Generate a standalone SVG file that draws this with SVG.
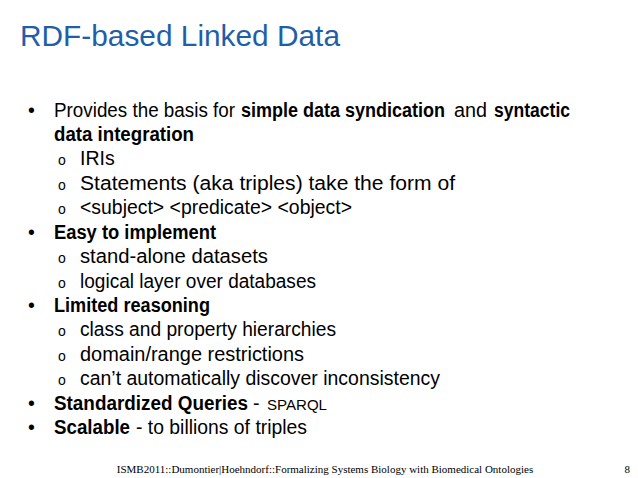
<svg xmlns="http://www.w3.org/2000/svg" width="638" height="478" viewBox="0 0 638 478">
<style>
.t{font-family:"Liberation Sans",Arial,sans-serif;font-size:19.5px;fill:#000}
.b{font-weight:bold}
.o{font-family:"Liberation Sans",Arial,sans-serif;font-size:14px}
</style>
<rect width="638" height="478" fill="#fff"/>
<text x="20" y="46" font-family="Liberation Sans,Arial,sans-serif" font-size="29" fill="#1f5fa8" textLength="320" lengthAdjust="spacingAndGlyphs">RDF-based Linked Data</text>
<g class="t">
<text x="28" y="117">•</text>
<text x="54" y="117" textLength="181" lengthAdjust="spacingAndGlyphs">Provides the basis for</text>
<text x="241" y="117" class="b" textLength="204" lengthAdjust="spacingAndGlyphs">simple data syndication</text>
<text x="454" y="117" textLength="33" lengthAdjust="spacingAndGlyphs">and</text>
<text x="494" y="117" class="b" textLength="76" lengthAdjust="spacingAndGlyphs">syntactic</text>
<text x="54" y="141" class="b" textLength="140" lengthAdjust="spacingAndGlyphs">data integration</text>
<text x="58" y="165" class="o">o</text><text x="80" y="165">IRIs</text>
<text x="58" y="190" class="o">o</text><text x="80" y="190" textLength="375" lengthAdjust="spacingAndGlyphs">Statements (aka triples) take the form of</text>
<text x="58" y="214" class="o">o</text><text x="80" y="214" textLength="272" lengthAdjust="spacingAndGlyphs">&lt;subject&gt; &lt;predicate&gt; &lt;object&gt;</text>
<text x="28" y="239">•</text><text x="54" y="239" class="b" textLength="162" lengthAdjust="spacingAndGlyphs">Easy to implement</text>
<text x="58" y="263" class="o">o</text><text x="80" y="263" textLength="188" lengthAdjust="spacingAndGlyphs">stand-alone datasets</text>
<text x="58" y="288" class="o">o</text><text x="80" y="288" textLength="236" lengthAdjust="spacingAndGlyphs">logical layer over databases</text>
<text x="28" y="312">•</text><text x="54" y="312" class="b" textLength="156" lengthAdjust="spacingAndGlyphs">Limited reasoning</text>
<text x="58" y="336" class="o">o</text><text x="80" y="336" textLength="256" lengthAdjust="spacingAndGlyphs">class and property hierarchies</text>
<text x="58" y="361" class="o">o</text><text x="80" y="361" textLength="224" lengthAdjust="spacingAndGlyphs">domain/range restrictions</text>
<text x="58" y="385" class="o">o</text><text x="80" y="385" textLength="360" lengthAdjust="spacingAndGlyphs">can’t automatically discover inconsistency</text>
<text x="28" y="410">•</text>
<text x="54" y="410" class="b" textLength="194" lengthAdjust="spacingAndGlyphs">Standardized Queries</text>
<text x="253" y="410">-</text>
<text x="267" y="410" font-size="15" textLength="60" lengthAdjust="spacingAndGlyphs">SPARQL</text>
<text x="28" y="434">•</text>
<text x="54" y="434" class="b" textLength="76" lengthAdjust="spacingAndGlyphs">Scalable</text>
<text x="136" y="434" textLength="171" lengthAdjust="spacingAndGlyphs">- to billions of triples</text>
</g>
<text x="325" y="473" text-anchor="middle" font-family="Liberation Serif,serif" font-size="11">ISMB2011::Dumontier|Hoehndorf::Formalizing Systems Biology with Biomedical Ontologies</text>
<text x="630" y="473" text-anchor="end" font-family="Liberation Serif,serif" font-size="11">8</text>
</svg>
